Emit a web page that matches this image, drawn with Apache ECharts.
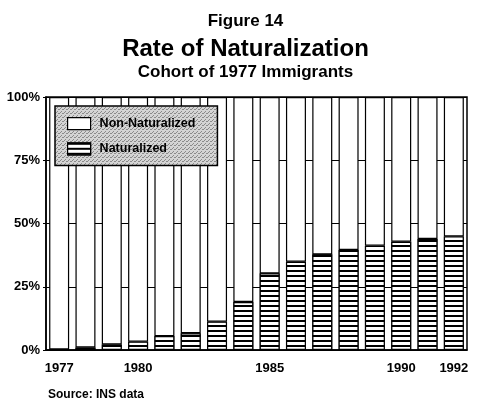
<!DOCTYPE html>
<html><head><meta charset="utf-8">
<script src="https://cdn.jsdelivr.net/npm/echarts@6/dist/echarts.min.js"></script>
<style>html,body{margin:0;padding:0;background:#fff}#c{width:491px;height:409px}</style>
</head><body><div id="c"></div>
<script>
var years = ['1977','1978','1979','1980','1981','1982','1983','1984','1985','1986','1987','1988','1989','1990','1991','1992'];
var naturalized = [0.2, 1, 2.2, 3.3, 5.5, 6.6, 11.2, 19, 30.3, 34.9, 37.8, 39.5, 41.2, 42.8, 43.9, 44.9];
var nonNaturalized = naturalized.map(function(v){ return +(100 - v).toFixed(1); });
var xTickLabels = ['1977','1980','1985','1990','1992'];
var yTicks = [0, 25, 50, 75, 100];

function stipple(){
  var c = document.createElement('canvas'); c.width = 4; c.height = 4;
  var g = c.getContext('2d');
  g.fillStyle = '#d4d4d4'; g.fillRect(0,0,4,4);
  g.fillStyle = '#8a8a8a';
  g.fillRect(0,0,1,1); g.fillRect(2,2,1,1); g.fillRect(3,0,1,1); g.fillRect(1,3,1,1);
  return c;
}
var font = 'Liberation Sans, Arial, sans-serif';
var hatch = { symbol: 'rect', symbolSize: 1, color: '#000', backgroundColor: '#fff', dashArrayX: [1, 0], dashArrayY: [1.4, 2.8], rotation: 0 };

var chart = echarts.init(document.getElementById('c'), null, {renderer: 'canvas'});
chart.setOption({
  animation: false,
  title: [
    { text: 'Figure 14', left: 'center', top: 8, textStyle: { fontFamily: font, fontSize: 17, fontWeight: 'bold', color: '#000' } },
    { text: 'Rate of Naturalization', left: 'center', top: 32, textStyle: { fontFamily: font, fontSize: 24, fontWeight: 'bold', color: '#000' } },
    { text: 'Cohort of 1977 Immigrants', left: 'center', top: 59, textStyle: { fontFamily: font, fontSize: 17, fontWeight: 'bold', color: '#000' } },
    { text: 'Source: INS data', left: 43, top: 384, textStyle: { fontFamily: font, fontSize: 12, fontWeight: 'bold', color: '#000' } }
  ],
  legend: {
    left: 55, top: 106, orient: 'vertical',
    padding: [11, 22, 10, 12],
    icon: 'rect',
    itemWidth: 23, itemHeight: 12, itemGap: 12,
    backgroundColor: { image: stipple(), repeat: 'repeat' },
    borderColor: '#000', borderWidth: 1.5, borderRadius: 0,
    data: ['Non-Naturalized', 'Naturalized'],
    textStyle: { fontFamily: font, fontSize: 12.5, fontWeight: 'bold', color: '#000', padding: [0,0,0,4] },
    itemStyle: { borderColor: '#000', borderWidth: 1.2 }
  },
  grid: { left: 46, right: 24, top: 97, bottom: 59, show: true, borderColor: '#000', borderWidth: 1.5, backgroundColor: 'transparent' },
  xAxis: {
    type: 'category', data: years,
    axisLine: { lineStyle: { color: '#000', width: 1.5 } },
    axisTick: { show: false },
    axisLabel: {
      interval: 0, margin: 12,
      fontFamily: font, fontSize: 13, fontWeight: 'bold', color: '#000',
      formatter: function(v){ return xTickLabels.indexOf(v) >= 0 ? v : ''; }
    }
  },
  yAxis: {
    type: 'value', min: yTicks[0], max: yTicks[yTicks.length-1], interval: 25,
    axisLine: { show: true, lineStyle: { color: '#000', width: 1.5 } },
    axisTick: { show: true, length: 3, lineStyle: { color: '#000' } },
    splitLine: { lineStyle: { color: '#000', width: 1.2 } },
    axisLabel: { fontFamily: font, fontSize: 13, fontWeight: 'bold', color: '#000', margin: 6, formatter: '{value}%' }
  },
  series: [
    { name: 'Naturalized', type: 'bar', stack: 'a', barWidth: 20, data: naturalized, z: 3,
      itemStyle: { color: '#fff', borderColor: '#000', borderWidth: 1.2, decal: hatch } },
    { name: 'Non-Naturalized', type: 'bar', stack: 'a', barWidth: 20, data: nonNaturalized, z: 3,
      itemStyle: { color: '#fff', borderColor: '#000', borderWidth: 1.2 } }
  ]
});
</script></body></html>
